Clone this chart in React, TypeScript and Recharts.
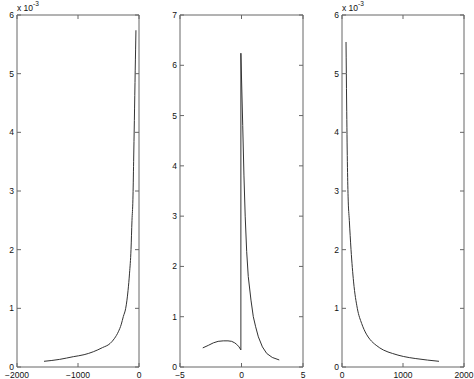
import React from 'react';
import { LineChart, Line, XAxis, YAxis } from 'recharts';

// values (panels 1 and 3 in units of 1e-3)
const leftX = [-1557, -1300, -1077, -900, -749, -600, -475, -400, -339, -290, -257, -218, -180, -155, -131, -115, -100, -88, -76, -62, -50];
const leftY = [0.097, 0.13, 0.176, 0.21, 0.26, 0.33, 0.4, 0.49, 0.6, 0.73, 0.86, 1.0, 1.3, 1.6, 2.0, 2.5, 2.85, 3.5, 4.2, 5.06, 5.74];

const midX = [-3.15, -2.7, -2.29, -1.9, -1.48, -1.1, -0.8, -0.55, -0.39, -0.2, -0.05, -0.05, 0.1, 0.2, 0.3, 0.42, 0.55, 0.77, 0.96, 1.15, 1.37, 1.7, 2.05, 2.5, 3.07];
const midY = [0.38, 0.43, 0.48, 0.51, 0.52, 0.52, 0.51, 0.48, 0.45, 0.4, 0.34, 6.24, 4.8, 3.8, 3.0, 2.3, 1.8, 1.33, 1.0, 0.8, 0.6, 0.4, 0.27, 0.19, 0.14];

const rightX = [66, 76, 88, 100, 120, 148, 190, 251, 323, 400, 459, 560, 678, 830, 1005, 1200, 1400, 1590];
const rightY = [5.54, 4.5, 3.5, 2.9, 2.5, 2.0, 1.45, 1.0, 0.74, 0.56, 0.47, 0.37, 0.29, 0.23, 0.18, 0.145, 0.118, 0.097];

const sideXTicksLeft = [-2000, -1000, 0];
const sideXTicksRight = [0, 1000, 2000];
const midXTicks = [-5, 0, 5];
const sideYTicks = [0, 1, 2, 3, 4, 5, 6];
const midYTicks = [0, 1, 2, 3, 4, 5, 6, 7];

const W = 474;
const H = 379;
const AXIS = '#666';
const LINE = '#333';
const FONT = 'Liberation Sans, Arial, sans-serif';
const FS = 8.5;
const TL = 4;

const fmt = (v: number) => (v < 0 ? '\u2212' + Math.abs(v) : String(v));

const toRows = (xs: number[], ys: number[]) => xs.map((x, i) => ({ x, y: ys[i] }));

const BottomTick = (p: any) => (
  <g>
    <line x1={p.x} x2={p.x} y1={p.y} y2={p.y - TL} stroke={AXIS} />
    <text x={p.x} y={p.y + 11} textAnchor="middle" fontSize={FS} fontFamily={FONT} fill="#111">
      {fmt(p.payload.value)}
    </text>
  </g>
);
const TopTick = (p: any) => <line x1={p.x} x2={p.x} y1={p.y} y2={p.y + TL} stroke={AXIS} />;
const LeftTick = (p: any) => (
  <g>
    <line x1={p.x} x2={p.x + TL} y1={p.y} y2={p.y} stroke={AXIS} />
    <text x={p.x - 3} y={p.y + 3} textAnchor="end" fontSize={FS} fontFamily={FONT} fill="#111">
      {fmt(p.payload.value)}
    </text>
  </g>
);
const RightTick = (p: any) => <line x1={p.x} x2={p.x - TL} y1={p.y} y2={p.y} stroke={AXIS} />;

type PanelProps = {
  rows: { x: number; y: number }[];
  xDomain: [number, number];
  xTicks: number[];
  yDomain: [number, number];
  yTicks: number[];
  left: number;
  right: number;
  curve: 'linear' | 'monotone';
};

// each axis takes 1px, so margins are trimmed by 1 to keep the plot box where the reference has it
const Panel = ({ rows, xDomain, xTicks, yDomain, yTicks, left, right, curve }: PanelProps) => (
  <div style={{ position: 'absolute', left: 0, top: 0 }}>
    <LineChart width={W} height={H} data={rows} margin={{ top: 14, bottom: 11, left: left - 1, right: W - right - 1 }}>
      <XAxis xAxisId="b" type="number" dataKey="x" domain={xDomain} ticks={xTicks} interval={0}
        height={1} tickSize={0} tickMargin={0} tickLine={false} axisLine={{ stroke: AXIS }}
        tick={BottomTick} allowDataOverflow />
      <XAxis xAxisId="t" orientation="top" type="number" dataKey="x" domain={xDomain} ticks={xTicks} interval={0}
        height={1} tickSize={0} tickMargin={0} tickLine={false} axisLine={{ stroke: AXIS }}
        tick={TopTick} allowDataOverflow />
      <YAxis yAxisId="l" type="number" domain={yDomain} ticks={yTicks} interval={0}
        width={1} tickSize={0} tickMargin={0} tickLine={false} axisLine={{ stroke: AXIS }}
        tick={LeftTick} allowDataOverflow />
      <YAxis yAxisId="r" orientation="right" type="number" domain={yDomain} ticks={yTicks} interval={0}
        width={1} tickSize={0} tickMargin={0} tickLine={false} axisLine={{ stroke: AXIS }}
        tick={RightTick} allowDataOverflow />
      <Line xAxisId="b" yAxisId="l" type={curve} dataKey="y" stroke={LINE} strokeWidth={1}
        dot={false} isAnimationActive={false} />
    </LineChart>
  </div>
);

const Exponent = ({ x }: { x: number }) => (
  <text x={x} y={11} fontSize={FS} fontFamily={FONT} fill="#111">
    x 10
    <tspan dy={-5} fontSize={6.5}>-3</tspan>
  </text>
);

export default function App() {
  return (
    <div style={{ position: 'absolute', left: 0, top: 0, width: W, height: H, background: '#fff' }}>
      <Panel rows={toRows(leftX, leftY)} xDomain={[-2000, 0]} xTicks={sideXTicksLeft}
        yDomain={[0, 6]} yTicks={sideYTicks} left={17} right={139} curve="monotone" />
      <Panel rows={toRows(midX, midY)} xDomain={[-5, 5]} xTicks={midXTicks}
        yDomain={[0, 7]} yTicks={midYTicks} left={180} right={303} curve="linear" />
      <Panel rows={toRows(rightX, rightY)} xDomain={[0, 2000]} xTicks={sideXTicksRight}
        yDomain={[0, 6]} yTicks={sideYTicks} left={342} right={464} curve="monotone" />
      <svg width={W} height={H} style={{ position: 'absolute', left: 0, top: 0 }}>
        <Exponent x={17} />
        <Exponent x={342} />
      </svg>
    </div>
  );
}
